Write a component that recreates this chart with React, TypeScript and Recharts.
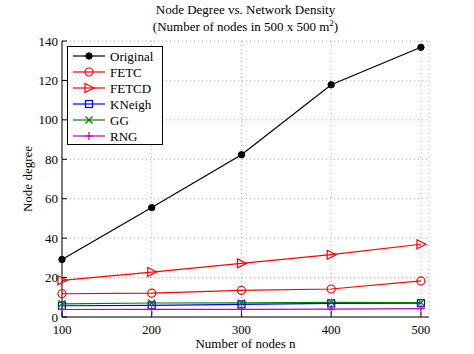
import { LineChart, Line, XAxis, YAxis, CartesianGrid } from 'recharts';

const nodes = [100, 200, 300, 400, 500];
const original = [29.2, 55.5, 82.3, 117.8, 136.8];
const fetc = [11.8, 12.1, 13.5, 14.2, 18.3];
const fetcd = [18.6, 22.8, 27.2, 31.6, 36.9];
const kneigh = [5.7, 5.9, 6.4, 6.9, 7.0];
const gg = [6.7, 7.1, 7.2, 7.4, 7.3];
const rng = [3.8, 3.9, 3.9, 4.0, 4.2];

const xTicks = [100, 200, 300, 400, 500];
const yTicks = [0, 20, 40, 60, 80, 100, 120, 140];

const font = '"Liberation Serif", "Times New Roman", serif';

type MarkerKind = 'dot' | 'circle' | 'triangle' | 'square' | 'x' | 'plus';

const series: { key: string; name: string; color: string; marker: MarkerKind; values: number[] }[] = [
  { key: 'original', name: 'Original', color: '#000000', marker: 'dot', values: original },
  { key: 'fetc', name: 'FETC', color: '#ff0000', marker: 'circle', values: fetc },
  { key: 'fetcd', name: 'FETCD', color: '#ff0000', marker: 'triangle', values: fetcd },
  { key: 'kneigh', name: 'KNeigh', color: '#0000ff', marker: 'square', values: kneigh },
  { key: 'gg', name: 'GG', color: '#008000', marker: 'x', values: gg },
  { key: 'rng', name: 'RNG', color: '#bf00bf', marker: 'plus', values: rng },
];

const data = nodes.map((n, i) => {
  const row: Record<string, number> = { n };
  series.forEach((s) => (row[s.key] = s.values[i]));
  return row;
});

function Marker({ kind, cx, cy, color }: { kind: MarkerKind; cx: number; cy: number; color: string }) {
  switch (kind) {
    case 'dot':
      return <circle cx={cx} cy={cy} r={3.2} fill={color} stroke={color} />;
    case 'circle':
      return <circle cx={cx} cy={cy} r={4} fill="none" stroke={color} strokeWidth={1.2} />;
    case 'triangle':
      return (
        <path
          d={`M${cx - 4},${cy - 4.5} L${cx + 5},${cy} L${cx - 4},${cy + 4.5} Z`}
          fill="none"
          stroke={color}
          strokeWidth={1.2}
        />
      );
    case 'square':
      return <rect x={cx - 3.5} y={cy - 3.5} width={7} height={7} fill="none" stroke={color} strokeWidth={1.2} />;
    case 'x':
      return (
        <path
          d={`M${cx - 3.5},${cy - 3.5} L${cx + 3.5},${cy + 3.5} M${cx - 3.5},${cy + 3.5} L${cx + 3.5},${cy - 3.5}`}
          stroke={color}
          strokeWidth={1.2}
        />
      );
    default:
      return (
        <path
          d={`M${cx - 4},${cy} L${cx + 4},${cy} M${cx},${cy - 4} L${cx},${cy + 4}`}
          stroke={color}
          strokeWidth={1.2}
        />
      );
  }
}

function LegendBox() {
  return (
    <svg width={96} height={100} style={{ display: 'block' }}>
      <rect x={0.5} y={0.5} width={95} height={98} fill="#fff" stroke="#000" strokeWidth={1} />
      {series.map((s, i) => {
        const y = 10 + i * 16;
        return (
          <g key={s.key}>
            <line x1={6} x2={38} y1={y} y2={y} stroke={s.color} strokeWidth={1.2} />
            <Marker kind={s.marker} cx={22} cy={y} color={s.color} />
            <text x={43} y={y + 4.5} fontSize={13} fontFamily={font} fill="#000">
              {s.name}
            </text>
          </g>
        );
      })}
    </svg>
  );
}

const hidden = () => <g />;

export default function App() {
  return (
    <div style={{ position: 'absolute', left: 0, top: 0, width: 474, height: 354, background: '#fff', fontFamily: font }}>
      <style>{`.recharts-cartesian-axis-tick-value, .recharts-text { font-family: ${font}; }`}</style>
      <div style={{ position: 'absolute', left: 62, width: 367, top: 1, textAlign: 'center', fontSize: 13, lineHeight: '17px', color: '#000' }}>
        <div>Node Degree vs. Network Density</div>
        <div>
          (Number of nodes in 500 x 500 m<sup style={{ fontSize: 9, lineHeight: 0 }}>2</sup>)
        </div>
      </div>
      <div
        style={{
          position: 'absolute',
          left: 27,
          top: 179,
          fontSize: 13,
          lineHeight: '13px',
          whiteSpace: 'nowrap',
          transform: 'translate(-50%, -50%) rotate(-90deg)',
        }}
      >
        Node degree
      </div>
      <div style={{ position: 'absolute', left: 62, width: 367, top: 338, textAlign: 'center', fontSize: 13, lineHeight: '12px' }}>
        Number of nodes n
      </div>
      <LineChart
        width={474}
        height={354}
        data={data}
        margin={{ top: 41, right: 45, left: 0, bottom: 0 }}
        style={{ fontFamily: font }}
      >
        <CartesianGrid stroke="#aaaaaa" strokeDasharray="1 3" />
        <XAxis
          xAxisId="top"
          orientation="top"
          dataKey="n"
          type="number"
          domain={[100, 509]}
          ticks={xTicks}
          height={0}
          stroke="#808080"
          strokeWidth={2}
          tickSize={-5}
          tick={hidden}
          tickLine={{ stroke: '#000', strokeWidth: 1 }}
        />
        <YAxis
          yAxisId="right"
          orientation="right"
          type="number"
          domain={[0, 140]}
          ticks={yTicks}
          width={0}
          stroke="#808080"
          strokeWidth={2}
          tickSize={-5}
          tick={hidden}
          tickLine={{ stroke: '#000', strokeWidth: 1 }}
        />
        <XAxis
          dataKey="n"
          type="number"
          domain={[100, 509]}
          ticks={xTicks}
          height={37}
          stroke="#000"
          tickSize={-5}
          tickMargin={13}
          tick={{ fontSize: 12.5, fontFamily: font, fill: '#000' }}
        />
        <YAxis
          type="number"
          domain={[0, 140]}
          ticks={yTicks}
          width={62}
          stroke="#000"
          tickSize={-5}
          tickMargin={9}
          tick={{ fontSize: 13, fontFamily: font, fill: '#000' }}
        />
        {series.map((s) => (
          <Line
            key={s.key}
            dataKey={s.key}
            name={s.name}
            stroke={s.color}
            strokeWidth={1.2}
            isAnimationActive={false}
            dot={(p: any) => <Marker key={`${s.key}-${p.index}`} kind={s.marker} cx={p.cx} cy={p.cy} color={s.color} />}
            activeDot={false}
          />
        ))}
      </LineChart>
      <div style={{ position: 'absolute', left: 67, top: 46 }}>
        <LegendBox />
      </div>
    </div>
  );
}
